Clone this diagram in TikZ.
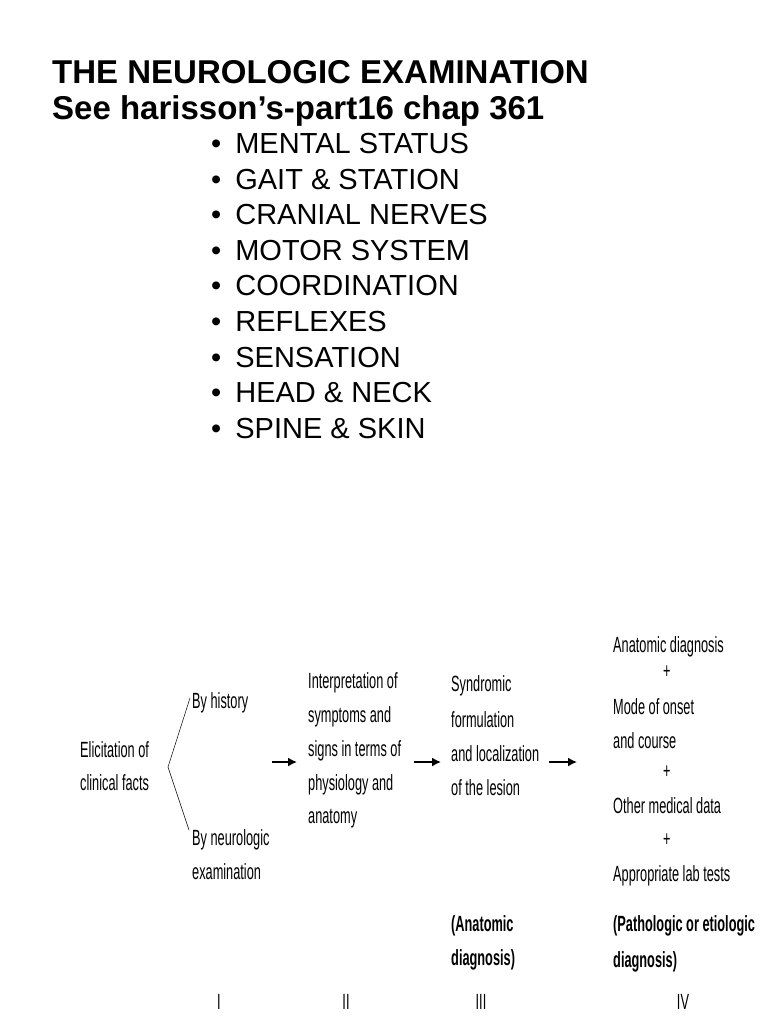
\documentclass[tikz,border=0pt]{standalone}
\usepackage{fontspec}
\usetikzlibrary{calc,arrows.meta}
\setmainfont{Liberation Sans}
\newfontfamily\narrowf[FakeStretch=0.58]{Liberation Sans}
\begin{document}
\begin{tikzpicture}[x=1pt,y=-1pt,
  title/.style={anchor=west,inner sep=0pt,font=\fontsize{33}{33}\selectfont\bfseries},
  bul/.style={anchor=west,inner sep=0pt,font=\fontsize{29}{29}\selectfont},
  dg/.style={anchor=west,inner sep=0pt,font=\narrowf\fontsize{22}{22}\selectfont},
  dgb/.style={anchor=west,inner sep=0pt,font=\narrowf\fontsize{22}{22}\selectfont\bfseries},
  arr/.style={-{Latex[length=9pt,width=9pt]},line width=1.5pt}]
\useasboundingbox (0,0) rectangle (768,1024);
\node[title] (t1) at (52,72) {THE NEUROLOGIC EXAMINATION};
\node[title] (t2) at (52,111) {See harisson’s-part16 chap 361};
\foreach \t [count=\i] in {MENTAL STATUS,GAIT \& STATION,CRANIAL NERVES,MOTOR SYSTEM,COORDINATION,REFLEXES,SENSATION,HEAD \& NECK,SPINE \& SKIN}{
  \node[bul] (b\i) at (211,{108+35.6*\i}) {\textbullet\hspace{14pt}\t};
}
\node[dg] (e1) at (80,750) {Elicitation of};
\node[dg] (e2) at (80,783) {clinical facts};
\node[dg] (h) at (192,703) {By history};
\node[dg] (n1) at (192,840) {By neurologic};
\node[dg] (n2) at (192,872) {examination};
\coordinate (v) at (168,767);
\draw[line width=0.5pt] ($(h.west)+(-2,-5)$) -- (v) -- ($(n1.west)+(-3,-10)$);
\foreach \t [count=\i] in {Interpretation of,symptoms and,signs in terms of,physiology and,anatomy}
  \node[dg] (i\i) at (308,{649+34*\i}) {\t};
\foreach \t [count=\i] in {Syndromic,formulation,and localization,of the lesion}
  \node[dg] (s\i) at (451,{652+34*\i}) {\t};
\node[dg] (r1) at (613,647) {Anatomic diagnosis};
\node[dg] (p1) at (663,672) {+};
\node[dg] (r2) at (613,707) {Mode of onset};
\node[dg] (r3) at (613,741) {and course};
\node[dg] (p2) at (663,772) {+};
\node[dg] (r4) at (613,806) {Other medical data};
\node[dg] (p3) at (663,840) {+};
\node[dg] (r5) at (613,876) {Appropriate lab tests};
\node[dgb] (a1) at (451,926) {(Anatomic};
\node[dgb] (a2) at (451,960) {diagnosis)};
\node[dgb] (q1) at (613,926) {(Pathologic or etiologic};
\node[dgb] (q2) at (613,962) {diagnosis)};
\coordinate (x1) at (272,762); \coordinate (y1) at (297,762);
\coordinate (x2) at (414,762); \coordinate (y2) at (441,762);
\coordinate (x3) at (549,762); \coordinate (y3) at (577,762);
\draw[arr] (x1) -- (y1); \draw[arr] (x2) -- (y2); \draw[arr] (x3) -- (y3);
\node[dg,anchor=center] (R1) at (219,1002) {I};
\node[dg,anchor=center] (R2) at (346,1002) {II};
\node[dg,anchor=center] (R3) at (481,1002) {III};
\node[dg,anchor=center] (R4) at (683,1002) {IV};
\end{tikzpicture}
\end{document}
